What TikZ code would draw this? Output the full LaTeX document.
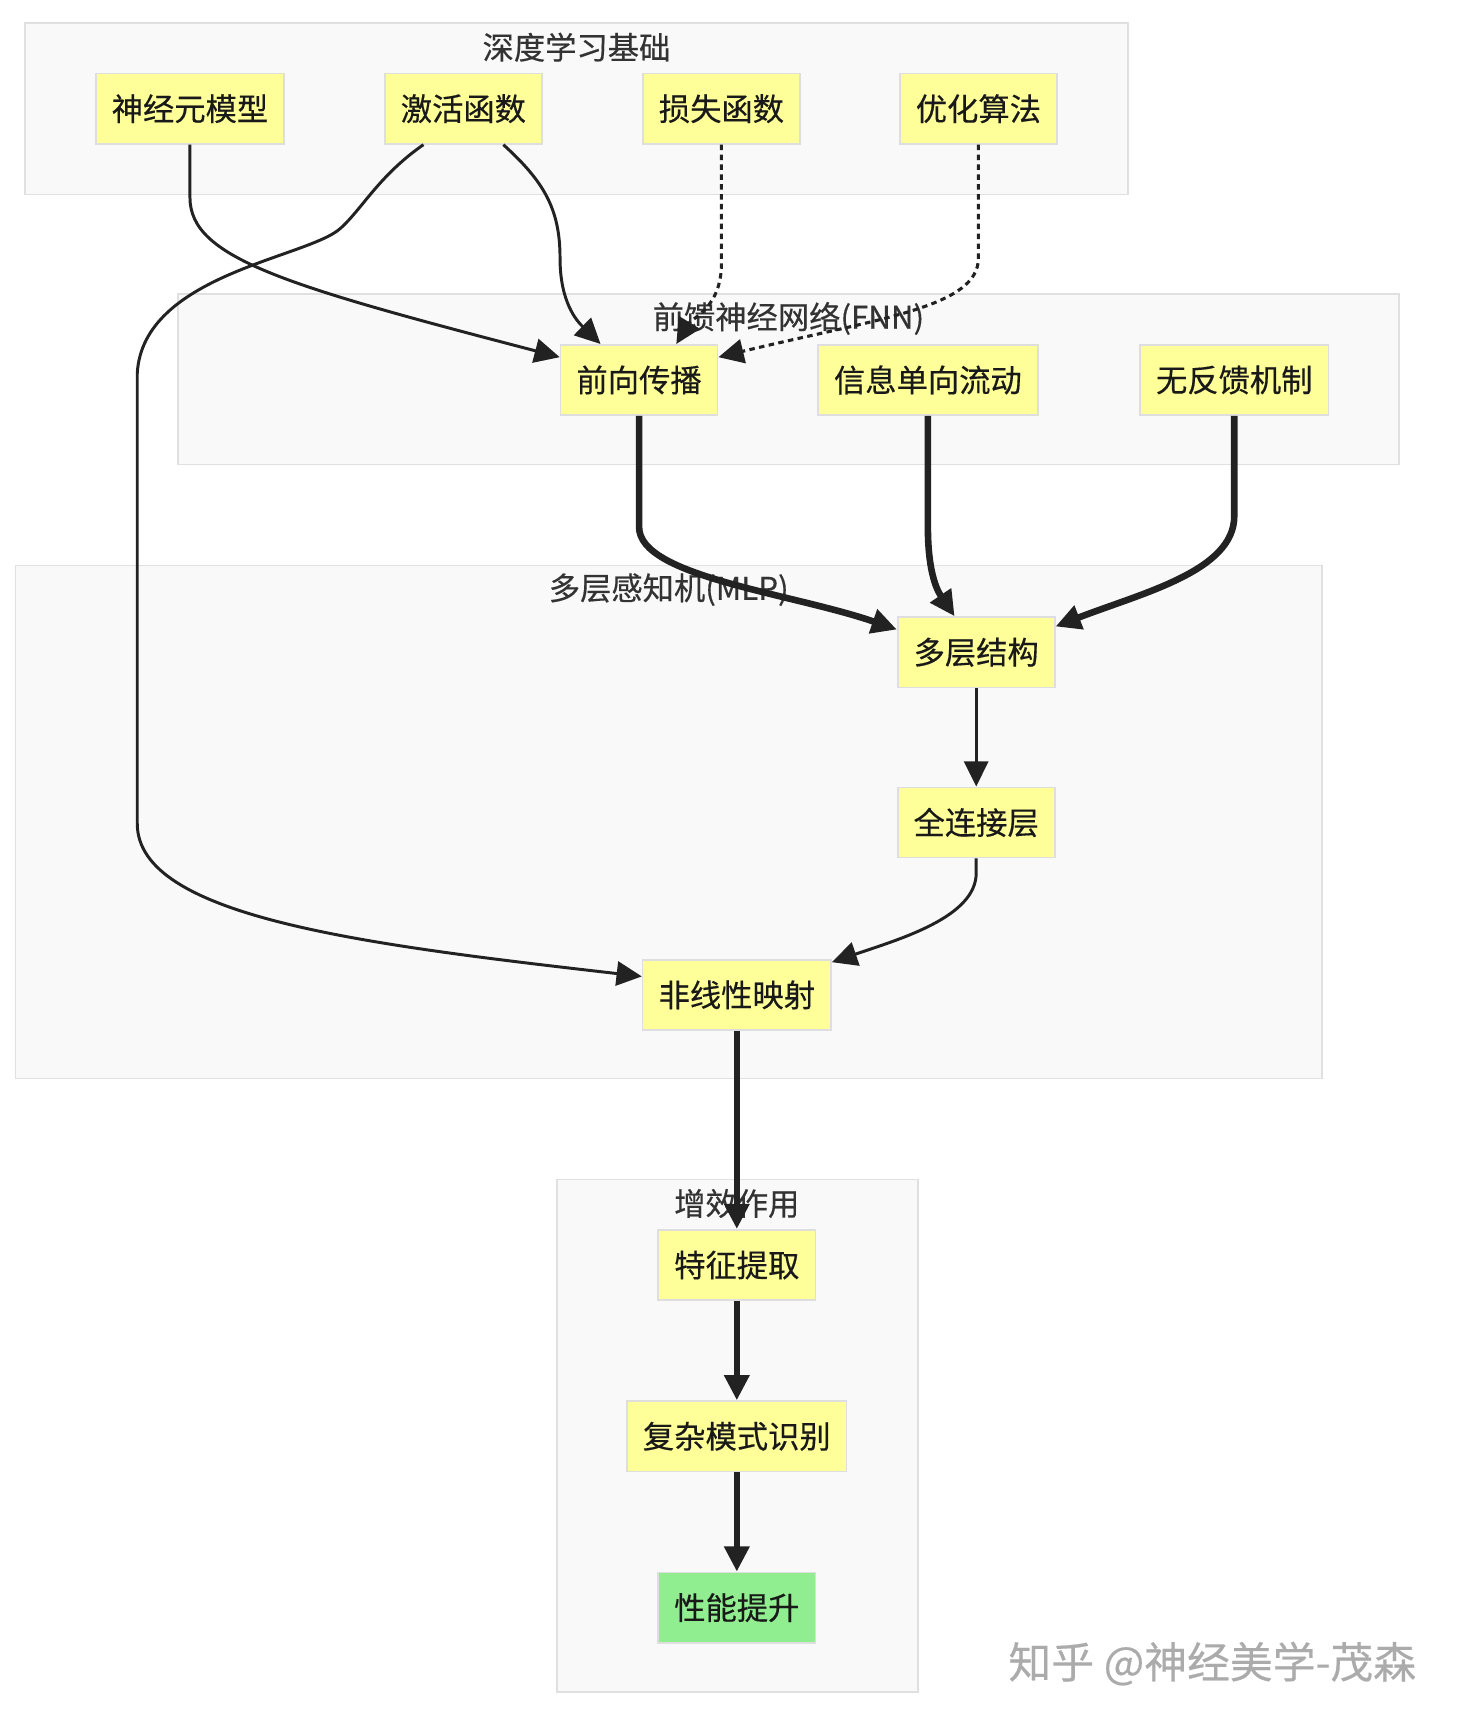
\documentclass[tikz,border=0pt]{standalone}
\usepackage{fontspec}
\setmainfont{Noto Sans CJK SC}[FakeBold=0.4]
\usepackage{tikz}
\usetikzlibrary{arrows.meta,positioning}

\definecolor{nodeyellow}{HTML}{FFFF99}
\definecolor{nodegreen}{HTML}{90EE90}
\definecolor{clusterfill}{HTML}{F9F9F9}
\definecolor{clusterline}{HTML}{E0E0E0}
\definecolor{edgecol}{HTML}{222222}

\begin{document}
\begin{tikzpicture}[x=1pt,y=-1pt,
    box/.style={draw=black!13,line width=1.5pt,fill=nodeyellow,minimum height=64pt,
      inner xsep=14.5pt,inner ysep=0pt,font=\fontsize{28.5pt}{34pt}\selectfont,text=black!90},
    cluster/.style={draw=clusterline,line width=1.5pt,fill=clusterfill},
    title/.style={font=\fontsize{28.5pt}{34pt}\selectfont,text=black!80},
    edge/.style={draw=edgecol,line width=2.7pt},
    thickedge/.style={draw=edgecol,line width=6pt},
    dottededge/.style={draw=edgecol,line width=2.8pt,dash pattern=on 5pt off 4pt},
    >={Triangle[length=23pt,width=22pt]}]
        \useasboundingbox (0,0) rectangle (1326,1570);
        % groups
        \draw [cluster] (23,21) rectangle (1027,177);
        \draw [cluster] (162,268) rectangle (1274,423);
        \draw [cluster] (14,515) rectangle (1204,982);
        \draw [cluster] (507,1074) rectangle (836,1541);
        \node [title] (TJ) at (525,43) {深度学习基础};
        \node [title] (TF) at (718,290) {前馈神经网络(FNN)};
        \node [title] (TM) at (609,537) {多层感知机(MLP)};
        \node [title] (TZ) at (671,1096) {增效作用};
        % nodes
        \node [box] (J1) at (173,99) {神经元模型};
        \node [box] (J2) at (422,99) {激活函数};
        \node [box] (J3) at (657,99) {损失函数};
        \node [box] (J4) at (891,99) {优化算法};
        \node [box] (F1) at (582,346) {前向传播};
        \node [box] (F2) at (845,346) {信息单向流动};
        \node [box] (F3) at (1124,346) {无反馈机制};
        \node [box] (M1) at (889,594) {多层结构};
        \node [box] (M2) at (889,749) {全连接层};
        \node [box] (M3) at (671,906) {非线性映射};
        \node [box] (Z1) at (671,1152) {特征提取};
        \node [box] (Z2) at (671,1308) {复杂模式识别};
        \node [box,fill=nodegreen] (Z3) at (671,1464) {性能提升};
        \node [font=\fontsize{39pt}{44pt}\selectfont,text=black!33] (WM) at (1104,1515) {知乎 @神经美学-茂森};
        % edges
        \draw [edge] [->] (J1.south) -- (173,180) .. controls (173,235) and (260,260) .. (F1.164);
        \draw [edge] [->] (J2.222) .. controls (345,160) and (330,190) .. (310,208)
            .. controls (280,235) and (130,250) .. (125,340) -- (125,750)
            .. controls (125,835) and (330,860) .. (M3.169);
        \draw [edge] [->] (J2.-42) .. controls (495,165) and (510,190) .. (510,235)
            .. controls (510,275) and (525,292) .. (F1.137);
        \draw [dottededge] [->] (J3.south) -- (657,240) .. controls (657,280) and (630,290) .. (F1.44);
        \draw [dottededge] [->] (J4.south) -- (891,235) .. controls (891,280) and (800,290) .. (F1.16);
        \draw [thickedge] [->] (F1.south) -- (582,480) .. controls (582,525) and (720,540) .. (M1.164);
        \draw [thickedge] [->] (F2.south) -- (845,480) .. controls (845,525) and (855,540) .. (M1.121);
        \draw [thickedge] [->] (F3.south) -- (1124,470) .. controls (1124,520) and (1040,540) .. (M1.18);
        \draw [edge] [->] (M1) -- (M2);
        \draw [edge] [->] (M2.south) -- (889,795) .. controls (889,835) and (820,855) .. (M3.19);
        \draw [thickedge] [->] (M3) -- (Z1);
        \draw [thickedge] [->] (Z1) -- (Z2);
        \draw [thickedge] [->] (Z2) -- (Z3);
\end{tikzpicture}
\end{document}
